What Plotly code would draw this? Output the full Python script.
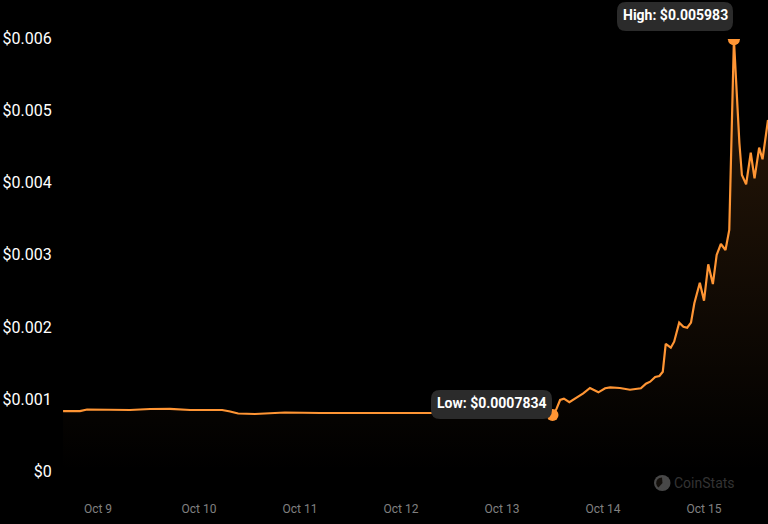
import pandas as pd
import plotly.graph_objects as go

hours_from_oct9 = [-8.3, -4.3, -2.6, 2.9, 7.6, 12.4, 17.1, 21.9, 29.5, 31.4, 33.3, 37.3, 42.1, 44.4, 52.8, 58.7,
                   71.8, 78.9, 90.8, 102.7, 106.9, 108.0, 108.9, 109.8, 110.7, 112.0, 113.8, 115.3, 116.9, 118.9,
                   120.5, 121.7, 124.0, 126.4, 129.0, 130.2, 131.2, 132.4, 133.4, 134.2, 134.9, 136.1, 136.9,
                   138.1, 139.1, 140.0, 140.9, 141.7, 143.0, 144.0, 145.0, 146.1, 147.0, 148.0, 149.1, 150.0,
                   151.1, 151.8, 152.4, 153.0, 154.0, 155.1, 156.0, 157.1, 157.9, 159.2]
prices = [0.000837, 0.000837, 0.000858, 0.000851, 0.000851, 0.000865, 0.000868, 0.000851, 0.000851, 0.000830,
          0.000803, 0.000796, 0.000810, 0.000817, 0.000810, 0.000807, 0.000810, 0.000810, 0.000810, 0.000810,
          0.000796, 0.0007834, 0.000861, 0.000990, 0.001008, 0.000958, 0.001027, 0.001082, 0.001156, 0.001096,
          0.001152, 0.001165, 0.001156, 0.001132, 0.001152, 0.001215, 0.001243, 0.001308, 0.001322, 0.001381,
          0.001765, 0.001713, 0.001797, 0.002060, 0.002004, 0.001990, 0.002060, 0.002328, 0.002613, 0.002364,
          0.002868, 0.002595, 0.002997, 0.003149, 0.003066, 0.003343, 0.005983, 0.005100, 0.004547, 0.004104,
          0.003975, 0.004412, 0.004058, 0.004482, 0.004321, 0.004865]
low_hour, low_price = 108.0, 0.0007834
high_hour, high_price = 151.1, 0.005983
x_tick_dates = ["2023-10-09", "2023-10-10", "2023-10-11", "2023-10-12", "2023-10-13", "2023-10-14", "2023-10-15"]
x_tick_labels = ["Oct 9", "Oct 10", "Oct 11", "Oct 12", "Oct 13", "Oct 14", "Oct 15"]
y_tick_values = [0, 0.001, 0.002, 0.003, 0.004, 0.005, 0.006]
y_tick_labels = ["$0", "$0.001", "$0.002", "$0.003", "$0.004", "$0.005", "$0.006"]

W, H = 768, 524
L, B = 63, 34
ORANGE = "#ff9534"
origin = pd.Timestamp("2023-10-09")


def to_time(h):
    return origin + pd.Timedelta(hours=h)


def px(x):
    return (x - L) / (W - L)


def py(y):
    return 1 - y / (H - B)


def make_path(segments):
    out = []
    for seg in segments:
        c = seg[1:]
        pts = [f"{px(c[i]):.5f},{py(c[i + 1]):.5f}" for i in range(0, len(c), 2)]
        out.append(seg[0] + " ".join(pts))
    return " ".join(out) + " Z"


def rounded(x0, y0, x1, y1, r):
    return make_path([("M", x0 + r, y0), ("L", x1 - r, y0), ("Q", x1, y0, x1, y0 + r), ("L", x1, y1 - r),
                      ("Q", x1, y1, x1 - r, y1), ("L", x0 + r, y1), ("Q", x0, y1, x0, y1 - r), ("L", x0, y0 + r),
                      ("Q", x0, y0, x0 + r, y0)])


times = [to_time(h) for h in hours_from_oct9]
fig = go.Figure()
fig.add_trace(go.Scatter(
    x=times, y=prices, mode="lines", line=dict(color=ORANGE, width=2.2), fill="tozeroy",
    fillgradient=dict(type="vertical", colorscale=[[0, "rgba(255,149,52,0.0)"], [1, "rgba(255,149,52,0.17)"]]),
    hoverinfo="skip", showlegend=False))
fig.add_trace(go.Scatter(
    x=[to_time(low_hour), to_time(high_hour)], y=[low_price, high_price], mode="markers",
    marker=dict(color=ORANGE, size=12), hoverinfo="skip", showlegend=False))

shapes = [
    dict(type="rect", xref="paper", yref="paper", x0=px(722), x1=px(745), y0=py(25), y1=py(39),
         fillcolor="#000", line_width=0, layer="above"),
    dict(type="path", xref="paper", yref="paper", path=rounded(617, 2, 733, 31, 9),
         fillcolor="#2b2b2b", line_width=0, layer="above"),
    dict(type="path", xref="paper", yref="paper", path=rounded(431, 390, 552, 419, 9),
         fillcolor="#2b2b2b", line_width=0, layer="above"),
    dict(type="circle", xref="paper", yref="paper", x0=px(654), x1=px(670.5), y0=py(491), y1=py(475),
         fillcolor="#484848", line_width=0, layer="above"),
    dict(type="path", xref="paper", yref="paper",
         path=make_path([("M", 662.5, 483), ("L", 662, 477.5), ("Q", 656, 478, 656.2, 483.5),
                         ("Q", 656.5, 486.5, 658.5, 487.5)]),
         fillcolor="#14100c", line_width=0, layer="above"),
]
annotations = [
    dict(text="<b>High: $0.005983</b>", xref="paper", yref="paper", x=px(675), y=py(15), showarrow=False,
         xanchor="center", yanchor="middle", font=dict(family="Roboto", size=14, color="#ffffff")),
    dict(text="<b>Low: $0.0007834</b>", xref="paper", yref="paper", x=px(492), y=py(403), showarrow=False,
         xanchor="center", yanchor="middle", font=dict(family="Roboto", size=14, color="#ffffff")),
    dict(text="CoinStats", xref="paper", yref="paper", x=px(704), y=py(483), showarrow=False,
         xanchor="center", yanchor="middle", font=dict(family="Roboto", size=14, color="#333333")),
]

fig.update_layout(
    width=W, height=H, margin=dict(l=L, r=0, t=0, b=B), paper_bgcolor="#000", plot_bgcolor="#000",
    shapes=shapes, annotations=annotations, showlegend=False,
    xaxis=dict(type="date", range=[to_time(-8.32), to_time(159.2)], tickmode="array", tickvals=x_tick_dates,
               ticktext=x_tick_labels, showgrid=False, zeroline=False, showline=False, ticks="outside",
               ticklen=8, tickcolor="rgba(0,0,0,0)", tickfont=dict(family="Roboto", size=12, color="#808080")),
    yaxis=dict(range=[-0.000256, 0.006526], tickmode="array", tickvals=y_tick_values, ticktext=y_tick_labels,
               showgrid=False, zeroline=False, showline=False, ticks="outside", ticklen=7,
               tickcolor="rgba(0,0,0,0)", tickfont=dict(family="Roboto", size=16, color="#ffffff")),
)
fig.write_html("out.html", config=dict(displayModeBar=False),
               post_script="document.body.style.margin='0';document.body.style.background='#000';")
